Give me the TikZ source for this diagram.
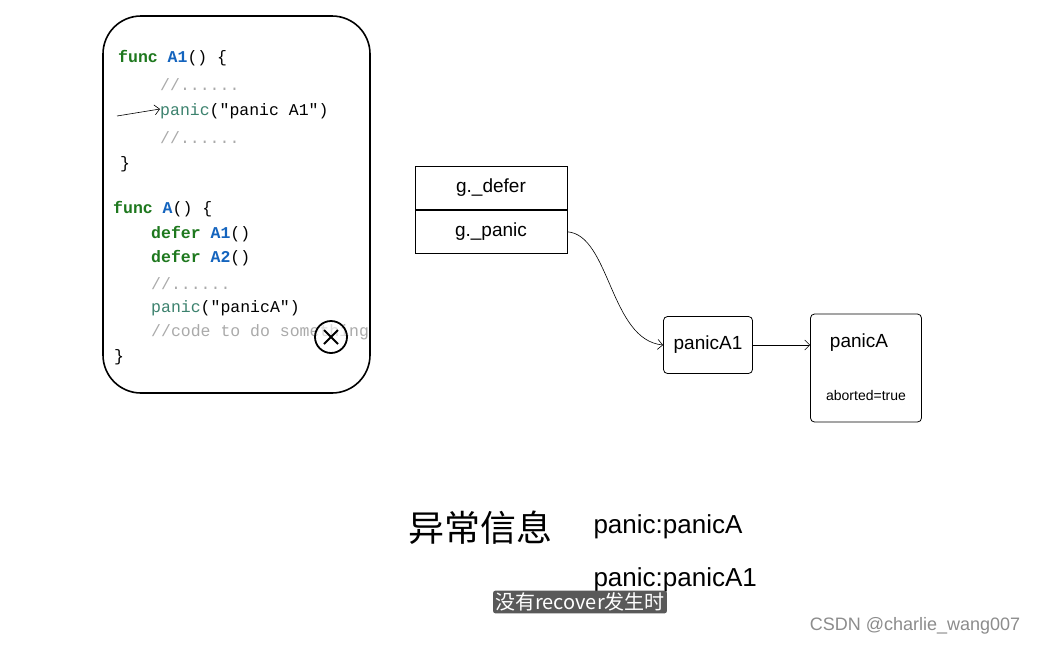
\documentclass[tikz,border=0pt]{standalone}
\usepackage{fontspec}
\setmainfont{Liberation Sans}
\newfontfamily\cmono{Liberation Mono}
\newfontfamily\cjk{Noto Sans CJK SC}
\usetikzlibrary{arrows.meta}
\definecolor{kw}{RGB}{30,120,30}
\definecolor{fn}{RGB}{20,100,190}
\definecolor{cm}{RGB}{170,170,170}
\definecolor{pn}{RGB}{60,130,110}
\begin{document}
\begin{tikzpicture}[x=1pt,y=-1pt,
  code/.style={anchor=west,inner sep=0,font=\cmono\fontsize{16.5}{18}\selectfont},
  box/.style={draw,rounded corners=4pt,line width=0.8pt},
  hand/.style={font=\fontsize{19}{22}\selectfont},
  arr/.style={-{Straight Barb[length=5pt]},line width=0.6pt}]
\useasboundingbox (0,0) rectangle (1047,646);
\fill[white] (0,0) rectangle (1047,646);
\draw[line width=1.6pt,rounded corners=38pt] (103,16) rectangle (370,393);
\node[code] (l1) at (118,58) {\textbf{\color{kw}func \color{fn}A1}() \{};
\node[code] (l2) at (160,85) {\color{cm}//......};
\node[code] (l3) at (160,111) {\color{pn}panic\color{black}("panic A1")};
\node[code] (l4) at (160,138) {\color{cm}//......};
\node[code] (l5) at (120,164) {\}};
\node[code] (m1) at (113,209) {\textbf{\color{kw}func \color{fn}A}() \{};
\node[code] (m2) at (151,234) {\textbf{\color{kw}defer \color{fn}A1}()};
\node[code] (m3) at (151,258) {\textbf{\color{kw}defer \color{fn}A2}()};
\node[code] (m4) at (151,284) {\color{cm}//......};
\node[code] (m5) at (151,308) {\color{pn}panic\color{black}("panicA")};
\node[code] (m6) at (151,332) {\color{cm}//code to do something};
\node[code] (m7) at (114,357) {\}};
\coordinate (as) at (117,116);
\draw[arr] (as) -- ([yshift=2pt]l3.west);
\node[circle,draw,line width=1.8pt,fill=white,fill opacity=0.6,text opacity=1,minimum size=32pt,inner sep=0] (x) at (331,337) {};
\draw[line width=2pt] (x.center) +(-7,-7) -- +(7,7) +(-7,7) -- +(7,-7);
\node[draw,line width=0.8pt,minimum width=152pt,minimum height=43pt,hand] (gd) at (491,188) {g.\_defer};
\node[draw,line width=0.8pt,minimum width=152pt,minimum height=43pt,hand,anchor=north] (gp) at (gd.south) {g.\_panic};
\node[box,minimum width=89pt,minimum height=57pt,hand] (p1) at (708,345) {panicA1};
\node[box,minimum width=111pt,minimum height=108pt] (p0) at (866,368) {};
\node[hand] (p0a) at (859,343) {panicA};
\node[font=\fontsize{14}{16}\selectfont] (p0b) at (866,395) {aborted=true};
\draw[arr] (gp.east) .. controls (610,235) and (610,340) .. (p1.west);
\draw[arr] (p1.east) -- (p0.west |- p1.east);
\node[font=\cjk\fontsize{36}{40}\selectfont] (e) at (480,528) {异常信息};
\node[font=\fontsize{26}{30}\selectfont,anchor=west] (e1) at (590,527) {panic:panicA};
\node[font=\fontsize{26}{30}\selectfont,anchor=west] (e2) at (590,580) {panic:panicA1};
\node[font=\cjk\fontsize{20}{24}\selectfont,text=white,draw=none,fill=black!65,rounded corners=2pt,inner sep=2pt] (sub) at (580,602) {没有recover发生时};
\node[font=\fontsize{18}{20}\selectfont,text=black!45] (w) at (915,626) {CSDN @charlie\_wang007};
\end{tikzpicture}
\end{document}
